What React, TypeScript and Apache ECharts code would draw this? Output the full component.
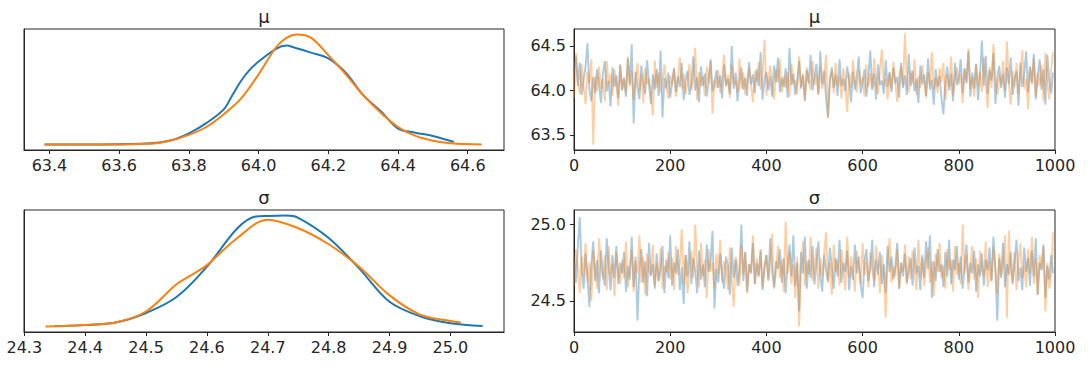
import React, { useEffect, useRef } from "react";
import * as echarts from "echarts";

// ---- tick labels ----
const muKdeTicks = [63.4, 63.6, 63.8, 64.0, 64.2, 64.4, 64.6];
const sigmaKdeTicks = [24.3, 24.4, 24.5, 24.6, 24.7, 24.8, 24.9, 25.0];
const drawTicks = [0, 200, 400, 600, 800, 1000];
const muTraceTicks = [63.5, 64.0, 64.5];
const sigmaTraceTicks = [24.5, 25.0];
const titles = ["μ", "σ"];

// ---- KDE curves (relative density) ----
const muKdeX0 = [63.386, 63.5, 63.6, 63.7, 63.75, 63.8, 63.85, 63.9, 63.925, 63.95, 63.975, 64.0, 64.05, 64.08, 64.1, 64.15, 64.2, 64.25, 64.3, 64.35, 64.4, 64.45, 64.5, 64.56];
const muKdeY0 = [0.0, 0.0, 0.002, 0.014, 0.038, 0.101, 0.194, 0.319, 0.45, 0.58, 0.68, 0.754, 0.87, 0.899, 0.884, 0.835, 0.783, 0.652, 0.449, 0.304, 0.145, 0.107, 0.078, 0.023];
const muKdeX1 = [63.386, 63.6, 63.7, 63.75, 63.8, 63.85, 63.9, 63.95, 64.0, 64.05, 64.08, 64.11, 64.15, 64.2, 64.25, 64.3, 64.35, 64.4, 64.45, 64.5, 64.55, 64.64];
const muKdeY1 = [0.0, 0.001, 0.009, 0.038, 0.087, 0.159, 0.275, 0.42, 0.638, 0.884, 0.97, 1.0, 0.971, 0.812, 0.638, 0.449, 0.29, 0.159, 0.078, 0.035, 0.012, 0.0];
const sigmaKdeX0 = [24.35, 24.4, 24.45, 24.5, 24.55, 24.6, 24.65, 24.68, 24.7, 24.73, 24.75, 24.8, 24.85, 24.9, 24.95, 25.0, 25.053];
const sigmaKdeY0 = [0.003, 0.012, 0.035, 0.121, 0.265, 0.539, 0.885, 0.991, 0.997, 1.0, 0.98, 0.798, 0.524, 0.222, 0.092, 0.029, 0.003];
const sigmaKdeX1 = [24.335, 24.4, 24.45, 24.5, 24.55, 24.58, 24.6, 24.65, 24.7, 24.75, 24.8, 24.85, 24.9, 24.95, 25.0, 25.017];
const sigmaKdeY1 = [0.0, 0.014, 0.035, 0.135, 0.38, 0.481, 0.553, 0.798, 0.963, 0.885, 0.741, 0.539, 0.28, 0.107, 0.049, 0.035];

// ---- trace values (every 4th draw) ----
const DRAW_STEP = 4;
const muChain0 = [
  64.22, 64.38, 64.05, 64.31, 63.95, 64.12, 64.27, 64.53, 64.02, 63.88, 64.15, 63.97, 64.24, 64.08, 63.86, 64.19, 64.33, 63.99, 64.11, 63.82, 64.26, 64.04, 64.17, 63.91, 64.29,
  64.00, 64.13, 63.93, 64.36, 64.07, 64.52, 63.63, 64.21, 64.03, 63.90, 64.28, 64.10, 63.96, 64.34, 64.06, 63.85, 64.18, 64.01, 64.24, 63.94, 64.45, 63.70, 64.14, 64.02, 64.20,
  63.92, 64.09, 64.25, 63.98, 64.16, 64.04, 64.31, 63.89, 64.12, 64.22, 63.95, 64.07, 64.38, 64.00, 64.15, 63.87, 64.27, 64.05, 64.19, 63.93, 64.11, 64.35, 63.99, 64.08, 64.23,
  64.03, 64.17, 63.91, 64.29, 64.06, 64.13, 63.96, 64.50, 64.02, 64.20, 63.88, 64.10, 64.26, 64.01, 64.14, 63.94, 64.32, 64.07, 64.18, 63.97, 64.24, 64.05, 64.43, 63.90, 64.12,
  64.21, 64.00, 64.16, 63.93, 64.28, 64.09, 64.37, 63.98, 64.14, 64.04, 64.25, 63.92, 64.48, 64.06, 64.19, 63.95, 64.11, 64.33, 64.02, 64.17, 63.89, 64.23, 64.08, 64.40, 64.00,
  64.15, 64.30, 63.96, 64.44, 64.07, 64.22, 63.91, 63.70, 64.12, 64.26, 64.03, 64.18, 63.94, 64.35, 64.05, 64.13, 63.99, 64.27, 64.10, 63.87, 64.21, 64.01, 64.16, 64.38, 63.97,
  64.09, 64.24, 63.93, 64.14, 64.45, 64.02, 64.19, 63.90, 64.29, 64.06, 64.11, 63.96, 64.34, 64.04, 64.20, 63.98, 64.26, 64.08, 64.15, 63.92, 64.31, 64.03, 64.17, 63.95, 64.41,
  64.05, 64.22, 63.99, 64.13, 63.86, 64.28, 64.07, 64.18, 63.94, 64.36, 64.01, 64.12, 63.84, 64.24, 64.04, 64.16, 63.91, 63.73, 64.10, 64.27, 64.00, 64.19, 63.88, 64.31, 64.06,
  64.14, 64.35, 63.97, 64.25, 64.08, 64.44, 63.93, 64.20, 64.02, 64.30, 63.89, 64.17, 64.56, 64.05, 64.39, 63.96, 64.23, 64.11, 64.42, 63.85, 64.15, 64.28, 64.03, 64.19, 63.92,
  64.26, 64.07, 64.37, 63.95, 64.13, 64.22, 63.83, 64.31, 64.04, 64.18, 64.44, 63.98, 64.27, 64.09, 64.41, 63.90, 64.16, 64.35, 64.01, 64.24, 63.84, 64.40, 64.12, 63.97, 64.20,
];
const muChain1 = [
  63.92, 64.42, 64.10, 63.96, 64.30, 64.04, 63.85, 64.21, 64.08, 64.35, 63.39, 64.16, 63.99, 64.27, 64.02, 64.13, 63.88, 64.33, 64.06, 64.19, 63.94, 64.24, 64.09, 63.83, 64.28,
  64.01, 64.15, 63.97, 64.38, 64.05, 64.22, 63.90, 64.12, 64.31, 64.00, 64.18, 63.86, 64.26, 64.07, 64.14, 63.95, 63.72, 64.34, 64.03, 64.20, 63.98, 64.11, 64.29, 64.04, 63.91,
  64.17, 64.06, 64.25, 63.93, 64.13, 64.37, 64.02, 64.19, 63.96, 64.09, 64.30, 64.00, 64.14, 64.48, 63.89, 64.21, 64.05, 64.16, 63.94, 64.27, 64.08, 64.33, 63.74, 64.12, 64.03,
  64.23, 63.97, 64.15, 64.40, 64.04, 64.18, 63.92, 64.29, 64.07, 64.11, 63.99, 64.36, 64.02, 64.20, 63.95, 64.13, 64.26, 64.06, 63.87, 64.22, 64.10, 64.32, 64.01, 64.17, 64.57,
  63.94, 64.14, 64.28, 64.05, 63.90, 64.24, 64.09, 64.35, 63.98, 64.16, 64.03, 64.21, 63.93, 64.30, 64.07, 64.12, 63.96, 64.38, 64.04, 64.19, 63.88, 64.26, 64.10, 64.01, 64.33,
  64.06, 64.18, 63.95, 64.27, 64.02, 64.13, 64.40, 63.69, 64.11, 64.22, 63.97, 64.31, 64.05, 64.16, 63.91, 64.25, 64.08, 63.76, 64.20, 64.03, 64.34, 64.12, 63.98, 64.23, 64.07,
  64.15, 63.93, 64.29, 64.04, 64.19, 64.00, 64.36, 64.09, 63.96, 64.24, 64.46, 64.06, 64.13, 63.90, 64.21, 64.02, 64.32, 64.10, 63.87, 64.17, 64.27, 64.05, 64.64, 64.12, 63.98,
  64.22, 64.08, 64.35, 63.95, 64.16, 64.03, 64.28, 64.11, 63.92, 64.20, 64.06, 64.43, 64.01, 64.14, 63.97, 64.25, 64.09, 64.31, 63.89, 64.18, 64.04, 64.38, 63.94, 64.13, 64.26,
  64.07, 64.19, 63.86, 64.24, 64.10, 64.47, 64.02, 64.15, 63.93, 64.30, 64.05, 64.21, 63.98, 64.37, 64.09, 63.80, 64.27, 64.03, 64.52, 64.12, 63.95, 64.18, 64.06, 64.33, 64.00,
  64.55, 64.08, 63.84, 64.22, 64.04, 64.31, 63.96, 64.17, 64.45, 64.02, 64.13, 63.79, 64.26, 64.07, 64.36, 63.93, 64.19, 64.05, 64.29, 63.88, 64.42, 64.10, 63.90, 64.24, 64.43,
];
const sigmaChain0 = [
  24.78, 24.62, 24.85, 25.05, 24.70, 24.58, 24.81, 24.66, 24.46, 24.74, 24.89, 24.63, 24.77, 24.55, 24.83, 24.69, 24.60, 24.91, 24.72, 24.57, 24.80, 24.65, 24.86, 24.61, 24.75,
  24.68, 24.82, 24.56, 24.73, 24.64, 24.92, 24.59, 24.79, 24.37, 24.71, 24.84, 24.62, 24.76, 24.53, 24.88, 24.67, 24.74, 24.58, 24.81, 24.63, 24.70, 24.86, 24.55, 24.77, 24.65,
  24.93, 24.60, 24.75, 24.68, 24.84, 24.57, 24.72, 24.48, 24.80, 24.66, 24.89, 24.61, 24.78, 24.70, 24.55, 24.83, 24.64, 24.74, 24.59, 24.87, 24.69, 24.76, 24.96, 24.45, 24.71,
  24.62, 24.81, 24.67, 24.58, 24.79, 24.73, 24.54, 24.85, 24.65, 24.77, 24.60, 24.70, 25.00, 24.63, 24.82, 24.56, 24.74, 24.68, 24.88, 24.61, 24.75, 24.66, 24.83, 24.57, 24.72,
  24.80, 24.64, 24.91, 24.69, 24.59, 24.76, 24.71, 24.84, 24.62, 24.78, 24.55, 24.73, 24.87, 24.66, 24.93, 24.60, 24.75, 24.43, 24.82, 24.68, 24.92, 24.58, 24.77, 24.65, 24.86,
  24.61, 24.74, 24.89, 24.67, 24.56, 24.80, 24.70, 24.63, 24.85, 24.72, 24.58, 24.78, 24.66, 24.90, 24.62, 24.75, 24.69, 24.83, 24.57, 24.73, 24.64, 24.87, 24.68, 24.79, 24.60,
  24.52, 24.76, 24.84, 24.63, 24.71, 24.90, 24.59, 24.77, 24.67, 24.82, 24.61, 24.74, 24.55, 24.86, 24.69, 24.79, 24.64, 24.72, 24.88, 24.58, 24.75, 24.66, 24.81, 24.62, 24.70,
  24.78, 24.60, 24.85, 24.68, 24.73, 24.57, 24.80, 24.65, 24.89, 24.71, 24.93, 24.52, 24.76, 24.63, 24.84, 24.69, 24.74, 24.59, 24.82, 24.66, 24.90, 24.61, 24.77, 24.70, 24.86,
  24.64, 24.79, 24.58, 24.72, 24.87, 24.62, 24.75, 24.68, 24.83, 24.56, 24.74, 24.66, 24.81, 24.60, 24.77, 24.70, 24.85, 24.63, 24.92, 24.71, 24.37, 24.78, 24.65, 24.88, 24.59,
  24.74, 24.67, 24.82, 24.61, 24.76, 24.90, 24.63, 24.72, 24.57, 24.85, 24.69, 24.78, 24.60, 24.83, 24.66, 24.91, 24.54, 24.75, 24.70, 24.87, 24.52, 24.73, 24.64, 24.80, 24.68,
];
const sigmaChain1 = [
  24.60, 24.84, 24.71, 24.55, 24.79, 24.66, 24.88, 24.62, 24.75, 24.50, 24.83, 24.69, 24.58, 24.91, 24.73, 24.64, 24.80, 24.57, 24.86, 24.67, 24.74, 24.53, 24.82, 24.70, 24.61,
  24.77, 24.65, 24.89, 24.59, 24.72, 24.84, 24.56, 24.76, 24.68, 24.93, 24.62, 24.79, 24.54, 24.81, 24.70, 24.66, 24.87, 24.60, 24.75, 24.63, 24.85, 24.58, 24.73, 24.69, 24.82,
  24.64, 24.78, 24.57, 24.86, 24.67, 24.74, 24.97, 24.61, 24.80, 24.55, 24.72, 24.83, 24.65, 25.00, 24.70, 24.59, 24.88, 24.66, 24.77, 24.52, 24.84, 24.69, 24.75, 24.58, 24.81,
  24.68, 24.90, 24.62, 24.76, 24.71, 24.57, 24.85, 24.64, 24.46, 24.79, 24.73, 24.60, 24.87, 24.67, 24.82, 24.55, 24.74, 24.69, 24.93, 24.61, 24.78, 24.66, 24.84, 24.59, 24.72,
  24.80, 24.63, 24.75, 24.94, 24.58, 24.70, 24.86, 24.65, 24.77, 24.56, 25.02, 24.68, 24.82, 24.61, 24.74, 24.52, 24.79, 24.33, 24.71, 24.89, 24.60, 24.76, 24.67, 24.92, 24.63,
  24.73, 24.85, 24.58, 24.78, 24.66, 24.81, 24.95, 24.62, 24.75, 24.54, 24.87, 24.69, 24.77, 24.60, 24.84, 24.71, 24.57, 24.92, 24.65, 24.79, 24.68, 24.56, 24.83, 24.72, 24.61,
  24.88, 24.67, 24.76, 24.59, 24.82, 24.70, 24.63, 24.86, 24.74, 24.55, 24.80, 24.68, 24.39, 24.77, 24.91, 24.62, 24.73, 24.66, 24.84, 24.58, 24.75, 24.69, 24.87, 24.61, 24.79,
  24.64, 24.83, 24.71, 24.57, 24.90, 24.66, 24.78, 24.60, 24.74, 24.85, 24.62, 24.76, 24.53, 24.81, 24.69, 24.88, 24.65, 24.73, 24.58, 24.84, 24.70, 24.77, 24.56, 24.86, 24.67,
  24.75, 24.61, 25.00, 24.68, 24.80, 24.57, 24.72, 24.86, 24.64, 24.78, 24.52, 24.83, 24.70, 24.66, 24.89, 24.59, 24.76, 24.63, 24.85, 24.71, 24.55, 24.81, 24.67, 24.74, 24.93,
  24.39, 24.96, 24.70, 24.62, 24.82, 24.57, 24.76, 24.88, 24.65, 24.73, 24.59, 24.84, 24.68, 24.92, 24.61, 24.77, 24.54, 24.80, 24.71, 24.86, 24.43, 24.75, 24.58, 24.67, 24.95,
];

const C0 = "#1f77b4";
const C1 = "#ff7f0e";
const INK = "#262626";
const FONT = "DejaVu Sans";

const pairs = (xs: number[], ys: number[]) => xs.map((x, i) => [x, ys[i]]);
const trace = (vals: number[]) => vals.map((v, i) => [i * DRAW_STEP, v]);

export default function App() {
  const ref = useRef<HTMLDivElement>(null);
  useEffect(() => {
    if (!ref.current) return;
    const chart = echarts.init(ref.current, undefined, { renderer: "svg" });

    const labelStyle = { color: INK, fontSize: 16, fontFamily: FONT };
    const xAxisFor = (grid: number, min: number, max: number, ticks: number[], dec: number) => ({
      type: "value",
      gridIndex: grid,
      min,
      max,
      axisLine: { show: true, onZero: false, lineStyle: { color: INK, width: 1 } },
      axisTick: { show: true, length: 4, lineStyle: { color: INK, width: 1 }, customValues: ticks },
      axisLabel: { ...labelStyle, margin: 7, customValues: ticks, formatter: (v: number) => v.toFixed(dec) },
      splitLine: { show: false },
    });
    const yAxisTrace = (grid: number, min: number, max: number, ticks: number[]) => ({
      type: "value",
      gridIndex: grid,
      min,
      max,
      axisLine: { show: true, onZero: false, lineStyle: { color: INK, width: 1 } },
      axisTick: { show: true, length: 4, lineStyle: { color: INK, width: 1 }, customValues: ticks },
      axisLabel: { ...labelStyle, margin: 8, customValues: ticks, formatter: (v: number) => v.toFixed(1) },
      splitLine: { show: false },
    });
    const yAxisKde = (grid: number) => ({
      type: "value",
      gridIndex: grid,
      min: -0.05,
      max: 1.05,
      axisLine: { show: true, onZero: false, lineStyle: { color: INK, width: 1 } },
      axisTick: { show: false },
      axisLabel: { show: false },
      splitLine: { show: false },
    });
    const gridBase = { show: true, borderColor: INK, borderWidth: 1, containLabel: false };

    const kde = (data: number[][], color: string, x: number, y: number) => ({
      type: "line",
      xAxisIndex: x,
      yAxisIndex: y,
      data,
      showSymbol: false,
      smooth: 0.35,
      lineStyle: { color, width: 2 },
      silent: true,
    });
    const tr = (data: number[][], color: string, x: number, y: number) => ({
      type: "line",
      xAxisIndex: x,
      yAxisIndex: y,
      data,
      showSymbol: false,
      lineStyle: { color, width: 1.9, opacity: 0.38 },
      silent: true,
    });

    const titleText = (text: string, x: number, y: number) => ({
      type: "text",
      x,
      y,
      style: {
        text,
        fill: INK,
        font: `18px "${FONT}"`,
        align: "center",
        textAlign: "center",
        verticalAlign: "bottom",
        textVerticalAlign: "bottom",
      },
    });

    chart.setOption({
      animation: false,
      backgroundColor: "#ffffff",
      grid: [
        { ...gridBase, left: 24, top: 29, width: 480, height: 121 },
        { ...gridBase, left: 574, top: 29, width: 481, height: 121 },
        { ...gridBase, left: 24, top: 210, width: 480, height: 122 },
        { ...gridBase, left: 574, top: 210, width: 481, height: 122 },
      ],
      xAxis: [
        xAxisFor(0, 63.327, 64.704, muKdeTicks, 1),
        xAxisFor(1, 0, 1000, drawTicks, 0),
        xAxisFor(2, 24.2995, 25.088, sigmaKdeTicks, 1),
        xAxisFor(3, 0, 1000, drawTicks, 0),
      ],
      yAxis: [
        yAxisKde(0),
        yAxisTrace(1, 63.331, 64.691, muTraceTicks),
        yAxisKde(2),
        yAxisTrace(3, 24.296, 25.096, sigmaTraceTicks),
      ],
      series: [
        kde(pairs(muKdeX0, muKdeY0), C0, 0, 0),
        kde(pairs(muKdeX1, muKdeY1), C1, 0, 0),
        tr(trace(muChain0), C0, 1, 1),
        tr(trace(muChain1), C1, 1, 1),
        kde(pairs(sigmaKdeX0, sigmaKdeY0), C0, 2, 2),
        kde(pairs(sigmaKdeX1, sigmaKdeY1), C1, 2, 2),
        tr(trace(sigmaChain0), C0, 3, 3),
        tr(trace(sigmaChain1), C1, 3, 3),
      ],
      graphic: [
        titleText(titles[0], 264, 25),
        titleText(titles[0], 814.5, 25),
        titleText(titles[1], 264, 206),
        titleText(titles[1], 814.5, 206),
      ],
    });
    return () => chart.dispose();
  }, []);
  return (
    <div
      ref={ref}
      style={{ position: "fixed", left: 0, top: 0, width: 1090, height: 371, background: "#fff" }}
    />
  );
}
